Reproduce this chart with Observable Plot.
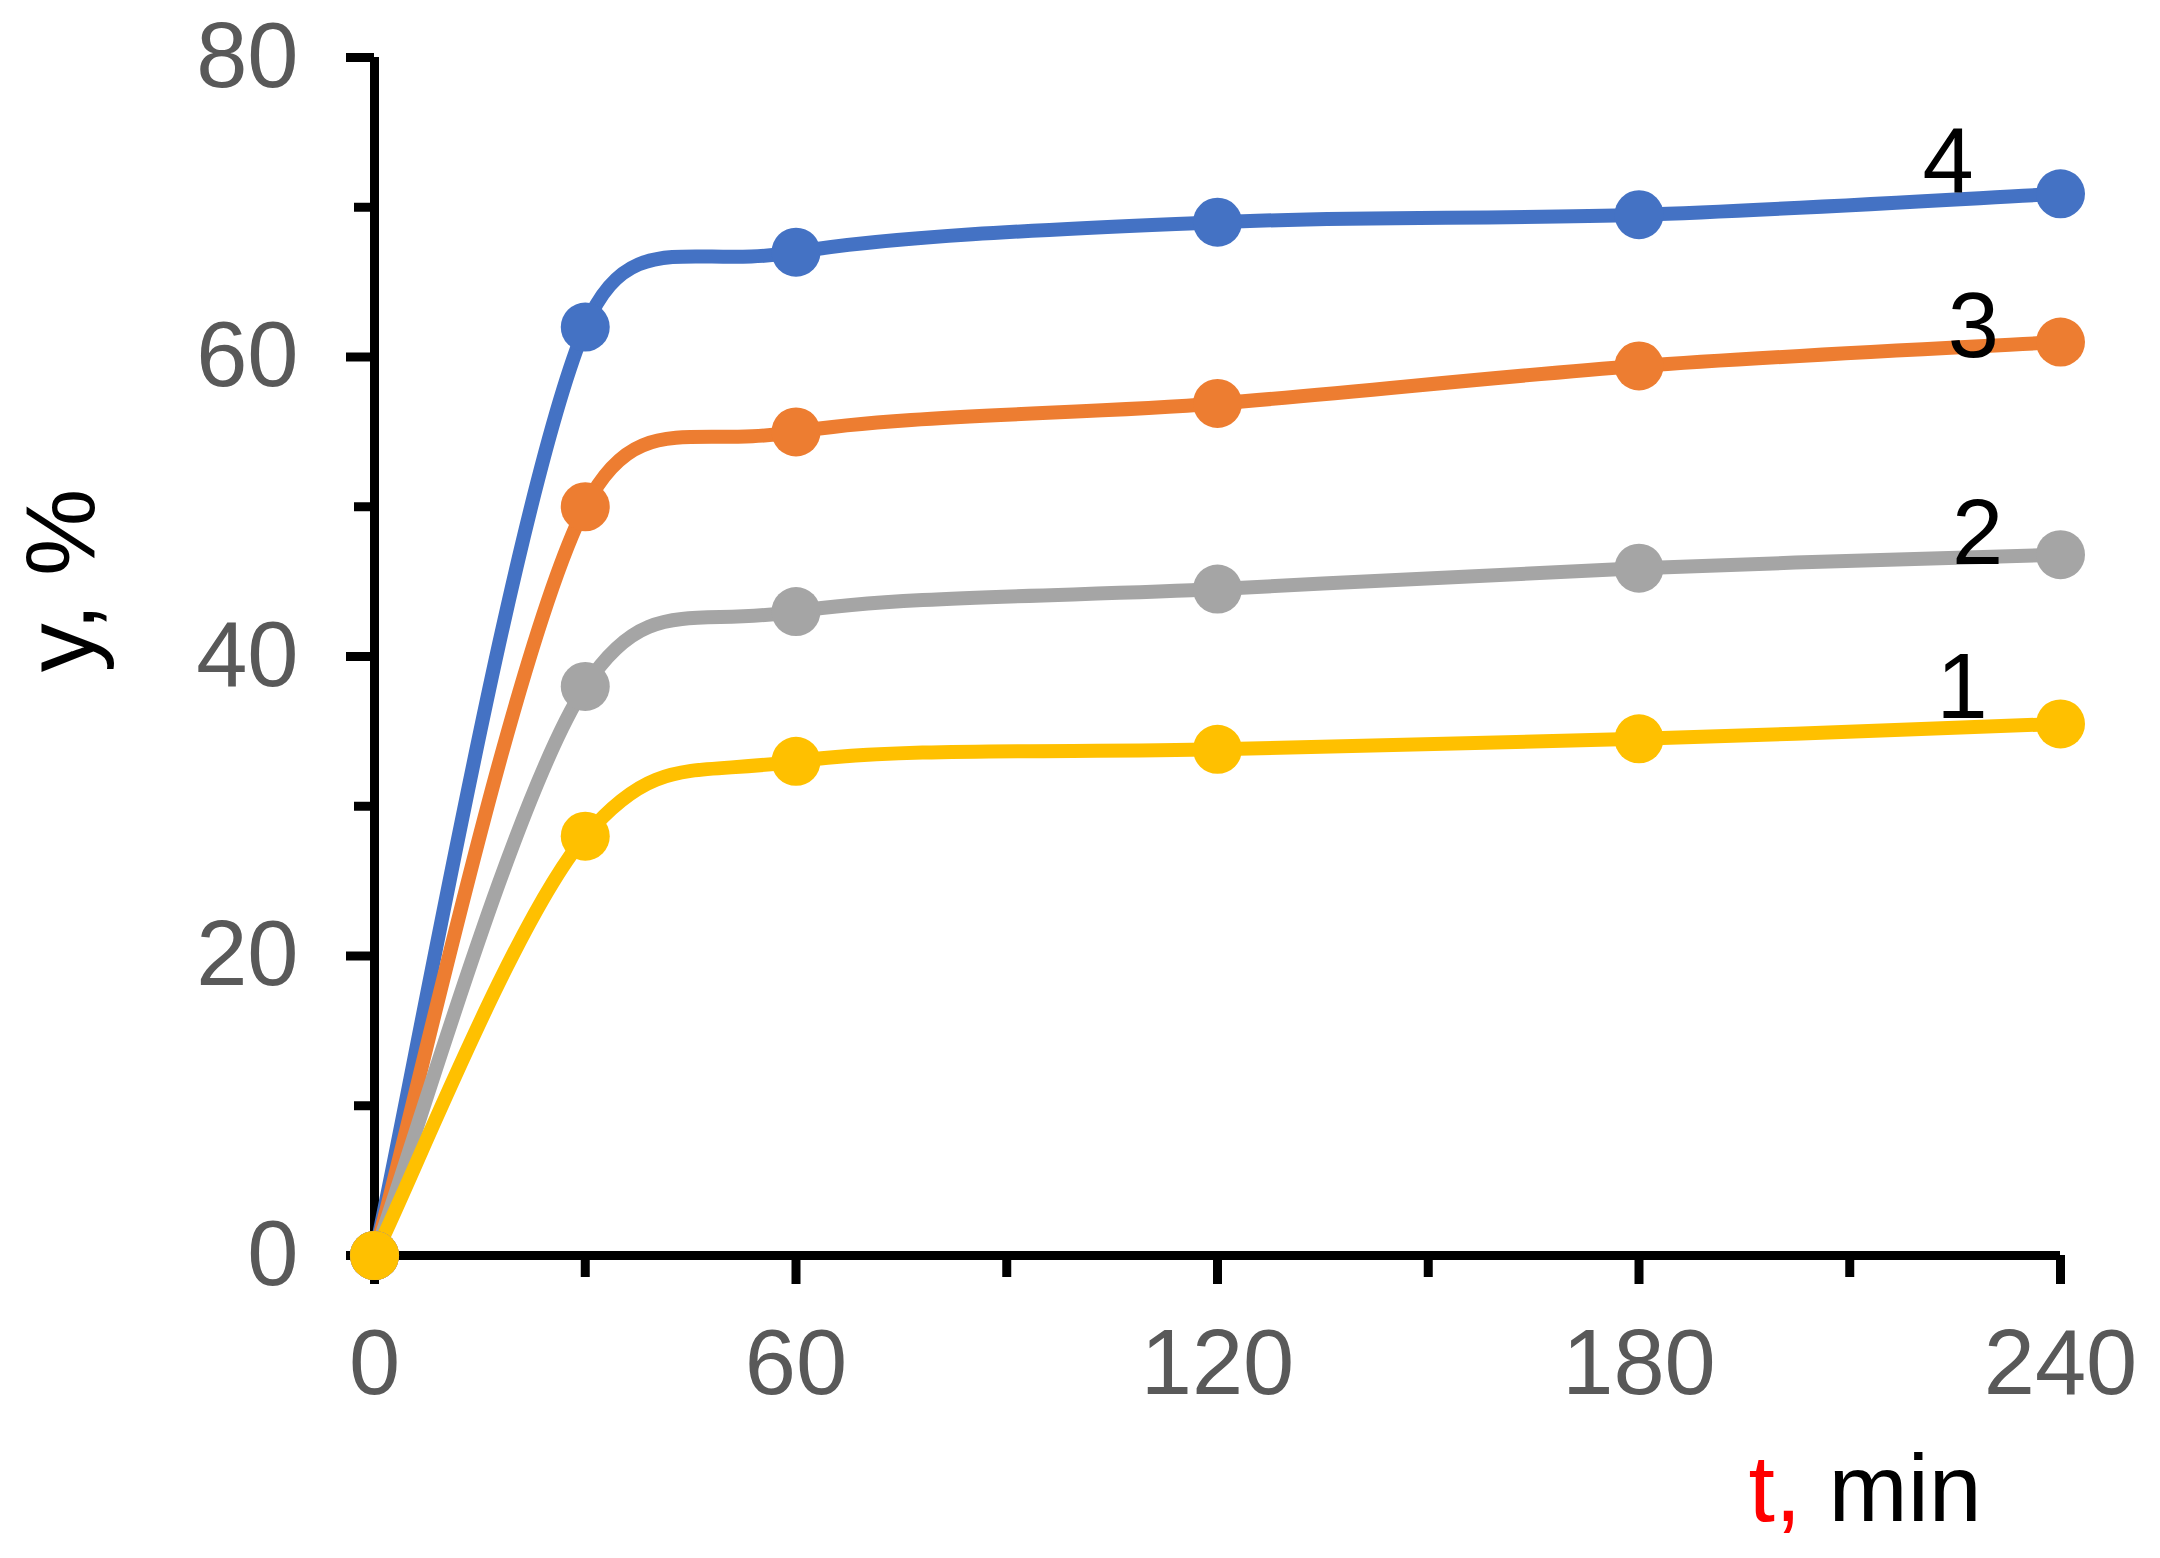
<!DOCTYPE html>
<html>
<head>
<meta charset="utf-8">
<script src="https://cdn.jsdelivr.net/npm/d3@7"></script>
<script src="https://cdn.jsdelivr.net/npm/@observablehq/plot@0.6"></script>
<style>
  html, body { margin: 0; padding: 0; background: #ffffff; }
  #chart svg { display: block; }
</style>
</head>
<body>
<div id="chart"></div>
<script>
// ---- data ----
const times = [0, 30, 60, 120, 180, 240];
const seriesNames = ["4", "3", "2", "1"];
const series4 = [0, 62.0, 67.0, 69.0, 69.5, 70.9];
const series3 = [0, 50.0, 55.0, 56.9, 59.4, 61.0];
const series2 = [0, 38.0, 43.0, 44.5, 45.9, 46.8];
const series1 = [0, 28.0, 33.0, 33.8, 34.5, 35.5];
const seriesColors = ["#4472C4", "#ED7D31", "#A5A5A5", "#FFC000"];
const xTicks = [0, 60, 120, 180, 240];
const xMinorTicks = [30, 90, 150, 210];
const yTicks = [0, 20, 40, 60, 80];
const yMinorTicks = [10, 30, 50, 70];
const labelT = [224, 227.6, 228.2, 226];
const labelY = [71.05, 60.0, 46.2, 35.9];

const seriesValues = [series4, series3, series2, series1];
const rows = [];
seriesNames.forEach((s, i) => times.forEach((t, j) => rows.push({series: s, t, y: seriesValues[i][j]})));
const labelRows = seriesNames.map((s, i) => ({series: s, t: labelT[i], y: labelY[i]}));

// Excel-style smoothed line: Bezier with 1/6 tangents capped at half the segment length
function excelSmooth(context) {
  let pts = [];
  return {
    areaStart() {}, areaEnd() {},
    lineStart() { pts = []; },
    point(x, y) { pts.push([+x, +y]); },
    lineEnd() {
      const n = pts.length;
      if (!n) return;
      context.moveTo(pts[0][0], pts[0][1]);
      for (let i = 0; i < n - 1; i++) {
        const p0 = pts[Math.max(i - 1, 0)], p1 = pts[i], p2 = pts[i + 1], p3 = pts[Math.min(i + 2, n - 1)];
        const d12 = Math.hypot(p2[0] - p1[0], p2[1] - p1[1]);
        let ax = (p2[0] - p0[0]) / 6, ay = (p2[1] - p0[1]) / 6;
        const la = Math.hypot(ax, ay);
        if (la > d12 / 2) { const s = d12 / 2 / la; ax *= s; ay *= s; }
        let bx = (p3[0] - p1[0]) / 6, by = (p3[1] - p1[1]) / 6;
        const lb = Math.hypot(bx, by);
        if (lb > d12 / 2) { const s = d12 / 2 / lb; bx *= s; by *= s; }
        context.bezierCurveTo(p1[0] + ax, p1[1] + ay, p2[0] - bx, p2[1] - by, p2[0], p2[1]);
      }
    }
  };
}

const tickGray = "#595959";
const chart = Plot.plot({
  width: 2160,
  height: 1558,
  marginLeft: 374,
  marginRight: 100,
  marginTop: 57,
  marginBottom: 303,
  style: {fontFamily: "'Liberation Sans', Arial, sans-serif", background: "#ffffff", color: "#000000"},
  x: {domain: [0, 240], label: null},
  y: {domain: [0, 80], label: null},
  color: {domain: seriesNames, range: seriesColors},
  marks: [
    Plot.axisY({ticks: yMinorTicks, tickSize: 20, strokeWidth: 9, stroke: "#000", fill: "none", label: null}),
    Plot.axisY({ticks: yTicks, tickSize: 28, tickPadding: 48, strokeWidth: 9, stroke: "#000", fill: tickGray, fontSize: 92, label: null}),
    Plot.axisX({ticks: xMinorTicks, tickSize: 22, strokeWidth: 9, stroke: "#000", fill: "none", label: null}),
    Plot.axisX({ticks: xTicks, tickSize: 29, tickPadding: 44, strokeWidth: 9, stroke: "#000", fill: tickGray, fontSize: 92, label: null}),
    Plot.ruleX([0], {y1: 0, y2: 80, stroke: "#000", strokeWidth: 9}),
    Plot.ruleY([0], {x1: 0, x2: 240, stroke: "#000", strokeWidth: 9}),
    Plot.line(rows, {x: "t", y: "y", z: "series", stroke: "series", strokeWidth: 14, curve: excelSmooth}),
    Plot.dot(rows, {x: "t", y: "y", fill: "series", r: 24.5, stroke: null}),
    Plot.text(labelRows, {x: "t", y: "y", text: "series", fontSize: 92, fill: "#000", textAnchor: "middle", lineAnchor: "bottom"}),
    Plot.text(["y, %"], {frameAnchor: "left", rotate: -90, dx: -281, dy: -76, fontSize: 98, fill: "#000", textAnchor: "middle", lineAnchor: "bottom"}),
    Plot.text(["t,"], {frameAnchor: "bottom-right", dx: -312, dy: 265, fontSize: 95, fill: "#FF0000", textAnchor: "start", lineAnchor: "bottom"}),
    Plot.text(["min"], {frameAnchor: "bottom-right", dx: -232, dy: 265, fontSize: 95, fill: "#000", textAnchor: "start", lineAnchor: "bottom"})
  ]
});
document.getElementById("chart").appendChild(chart);
</script>
</body>
</html>
